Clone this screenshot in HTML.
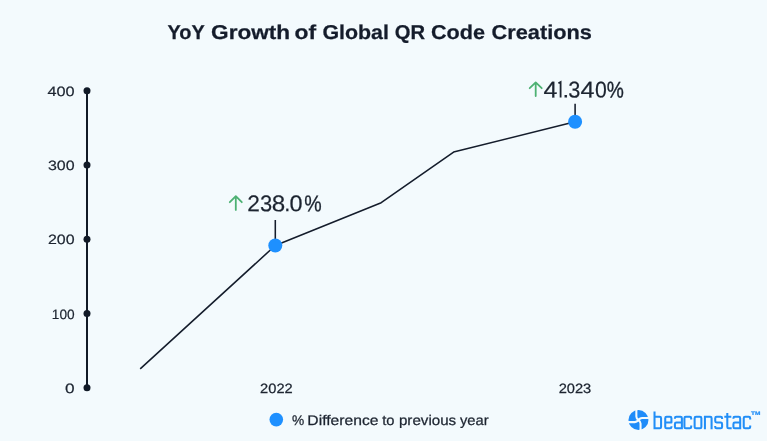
<!DOCTYPE html>
<html>
<head>
<meta charset="utf-8">
<title>YoY Growth of Global QR Code Creations</title>
<style>
  html, body { margin: 0; padding: 0; background: #f3fafd; }
  body { width: 767px; height: 441px; overflow: hidden; font-family: "Liberation Sans", sans-serif; }
  svg { display: block; will-change: transform; }
  text { font-family: "Liberation Sans", sans-serif; text-rendering: geometricPrecision; }
</style>
</head>
<body>
<svg width="767" height="441" viewBox="0 0 767 441">
  <rect x="0" y="0" width="767" height="441" fill="#f3fafd"/>

  <!-- Title -->
  <g font-size="20" font-weight="bold" fill="#141c2b" stroke="#141c2b" stroke-width="0.25">
    <text x="167.49" y="38.7" textLength="37.33" lengthAdjust="spacingAndGlyphs">YoY</text>
    <text x="211.09" y="38.7" textLength="79.00" lengthAdjust="spacingAndGlyphs">Growth</text>
    <text x="294.49" y="38.7" textLength="21.57" lengthAdjust="spacingAndGlyphs">of</text>
    <text x="322.43" y="38.7" textLength="66.53" lengthAdjust="spacingAndGlyphs">Global</text>
    <text x="394.87" y="38.7" textLength="30.32" lengthAdjust="spacingAndGlyphs">QR</text>
    <text x="431.02" y="38.7" textLength="54.01" lengthAdjust="spacingAndGlyphs">Code</text>
    <text x="491.62" y="38.7" textLength="100.26" lengthAdjust="spacingAndGlyphs">Creations</text>
  </g>

  <!-- Y axis -->
  <line x1="87" y1="90.8" x2="87" y2="387.8" stroke="#111a27" stroke-width="2"/>
  <g fill="#111a27">
    <circle cx="87" cy="90.8" r="3.5"/>
    <circle cx="87" cy="165.05" r="3.5"/>
    <circle cx="87" cy="239.3" r="3.5"/>
    <circle cx="87" cy="313.55" r="3.5"/>
    <circle cx="87" cy="387.8" r="3.5"/>
  </g>
  <g font-size="13.5" fill="#1c2430" stroke="#1c2430" stroke-width="0.2" text-anchor="end">
    <text x="74.6" y="95.9" textLength="27.2" lengthAdjust="spacingAndGlyphs">400</text>
    <text x="74.6" y="170.15" textLength="26.6" lengthAdjust="spacingAndGlyphs">300</text>
    <text x="74.6" y="244.4" textLength="26.6" lengthAdjust="spacingAndGlyphs">200</text>
    <text x="74.6" y="318.65" textLength="22.8" lengthAdjust="spacingAndGlyphs">100</text>
    <text x="74.6" y="393.1" textLength="9.6" lengthAdjust="spacingAndGlyphs">0</text>
  </g>

  <!-- Data line -->
  <polyline points="140.2,368.9 275.3,245.5 381.2,202.7 453.6,152.1 575.1,121.8" fill="none" stroke="#141c2b" stroke-width="1.55" stroke-linecap="butt" stroke-linejoin="round"/>

  <!-- Point ticks -->
  <line x1="275.3" y1="220" x2="275.3" y2="245.5" stroke="#141c2b" stroke-width="1.55"/>
  <line x1="575.1" y1="103.7" x2="575.1" y2="121.8" stroke="#141c2b" stroke-width="1.55"/>

  <!-- Points -->
  <circle cx="275.3" cy="245.5" r="7" fill="#1e90ff"/>
  <circle cx="575.1" cy="121.8" r="7" fill="#1e90ff"/>

  <!-- Point labels -->
  <g fill="none" stroke="#4db173" stroke-width="1.8" stroke-linecap="round" stroke-linejoin="round">
    <path d="M235.8 209.9 V196.2 M229.8 202.2 L235.8 196.1 L241.8 202.2"/>
    <path d="M535.7 96.0 V82.5 M529.7 88.2 L535.7 82.4 L541.7 88.2"/>
  </g>
  <g font-size="22.8" fill="#1c2430" stroke="#1c2430" stroke-width="0.2">
    <text transform="translate(247.24 211.25) rotate(0.25) scale(0.992 1)">2</text>
    <text transform="translate(260.12 211.25) rotate(0.25) scale(0.960 1)">3</text>
    <text transform="translate(271.85 211.25) rotate(0.25) scale(1.059 1)">8</text>
    <text transform="translate(284.19 211.25) rotate(0.25) scale(0.962 1)">.</text>
    <text transform="translate(289.47 211.25) rotate(0.25) scale(1.026 1)">0</text>
    <text transform="translate(304.19 211.25) rotate(0.25) scale(0.858 1)" stroke-width="0.3">%</text>
    <text transform="translate(543.51 97.55) rotate(0.25) scale(1.097 1)">4</text>
    <text transform="translate(562.44 97.55) rotate(0.25) scale(1.043 1)">.</text>
    <text transform="translate(568.32 97.55) rotate(0.25) scale(0.951 1)">3</text>
    <text transform="translate(580.51 97.55) rotate(0.25) scale(1.106 1)">4</text>
    <text transform="translate(594.94 97.55) rotate(0.25) scale(0.930 1)">0</text>
    <text transform="translate(606.80 97.55) rotate(0.25) scale(0.842 1)" stroke-width="0.35">%</text>
    <path d="M558.4 83.2 L560.6 82.0 V97.5" fill="none" stroke-width="1.8" stroke-linejoin="miter"/>
  </g>

  <!-- X labels -->
  <g font-size="13.5" fill="#1c2430" stroke="#1c2430" stroke-width="0.25">
    <text x="260.1" y="393" textLength="32.6" lengthAdjust="spacingAndGlyphs">2022</text>
    <text x="558.7" y="393" textLength="32.6" lengthAdjust="spacingAndGlyphs">2023</text>
  </g>

  <!-- Legend -->
  <circle cx="276.3" cy="419.6" r="6.8" fill="#1e90ff"/>
  <g font-size="14" fill="#1c2430" stroke="#1c2430" stroke-width="0.25">
    <text x="292.07" y="425" textLength="12.24" lengthAdjust="spacingAndGlyphs">%</text>
    <text x="307.38" y="425" textLength="71.06" lengthAdjust="spacingAndGlyphs">Difference</text>
    <text x="382.20" y="425" textLength="12.30" lengthAdjust="spacingAndGlyphs">to</text>
    <text x="398.95" y="425" textLength="57.22" lengthAdjust="spacingAndGlyphs">previous</text>
    <text x="460.00" y="425" textLength="28.67" lengthAdjust="spacingAndGlyphs">year</text>
  </g>

  <!-- Logo -->
  <g id="logo">
    <g transform="translate(638.45 420)">
      <circle cx="0" cy="0" r="10" fill="#1f8cf9"/>
      <g fill="none" stroke="#f3fafd" stroke-width="2.05" stroke-linecap="butt" stroke-linejoin="round">
        <path d="M-2.1 -11.5 V-3.6 Q-2.1 -1.7 0 0"/>
        <path d="M11.5 -2.1 H3.6 Q1.7 -2.1 0 0"/>
        <path d="M2.1 11.5 V3.6 Q2.1 1.7 0 0"/>
        <path d="M-11.5 2.1 H-3.6 Q-1.7 2.1 0 0"/>
      </g>
      <circle cx="0" cy="0" r="1.5" fill="#f3fafd" opacity="0.8"/>
    </g>
    <path d="M654.52 411.40 V429.30 M654.52 416.77 H659.68 Q661.08 416.77 661.08 418.17 V426.88 Q661.08 428.28 659.68 428.28 H654.52 M665.23 422.52 H671.43 V418.17 Q671.43 416.77 670.03 416.77 H666.62 Q665.23 416.77 665.23 418.17 V426.88 Q665.23 428.28 666.62 428.28 H670.03 Q671.43 428.28 671.43 426.88 V426.28 M674.92 418.77 V418.17 Q674.92 416.77 676.32 416.77 H680.48 Q681.88 416.77 681.88 418.17 V429.30 M681.88 422.52 H676.32 Q674.92 422.52 674.92 423.92 V426.88 Q674.92 428.28 676.32 428.28 H681.88 M691.18 419.47 V418.17 Q691.18 416.77 689.78 416.77 H685.82 Q684.42 416.77 684.42 418.17 V426.88 Q684.42 428.28 685.82 428.28 H689.78 Q691.18 428.28 691.18 426.88 V425.58 M696.02 416.77 H699.98 Q701.38 416.77 701.38 418.17 V426.88 Q701.38 428.28 699.98 428.28 H696.02 Q694.62 428.28 694.62 426.88 V418.17 Q694.62 416.77 696.02 416.77 Z M704.92 429.30 V415.75 M704.92 416.77 H710.18 Q711.58 416.77 711.58 418.17 V429.30 M722.08 419.07 V418.17 Q722.08 416.77 720.68 416.77 H716.62 Q715.23 416.77 715.23 418.17 V421.12 Q715.23 422.52 716.62 422.52 H720.68 Q722.08 422.52 722.08 423.92 V426.88 Q722.08 428.28 720.68 428.28 H716.62 Q715.23 428.28 715.23 426.88 V425.98 M727.30 413.10 V426.88 Q727.30 428.28 728.70 428.28 H731.70 M724.30 416.77 H731.30 M733.42 418.77 V418.17 Q733.42 416.77 734.82 416.77 H738.78 Q740.18 416.77 740.18 418.17 V429.30 M740.18 422.52 H734.82 Q733.42 422.52 733.42 423.92 V426.88 Q733.42 428.28 734.82 428.28 H740.18 M750.18 419.47 V418.17 Q750.18 416.77 748.78 416.77 H745.12 Q743.73 416.77 743.73 418.17 V426.88 Q743.73 428.28 745.12 428.28 H748.78 Q750.18 428.28 750.18 426.88 V425.58" fill="none" stroke="#218ef7" stroke-width="2.05" stroke-linejoin="round" stroke-linecap="butt"/>
    <text x="751.0" y="415" font-size="5" font-weight="bold" fill="#218ef7" stroke="#218ef7" stroke-width="0.2" textLength="9.4" lengthAdjust="spacingAndGlyphs">TM</text>
  </g>
</svg>
</body>
</html>
